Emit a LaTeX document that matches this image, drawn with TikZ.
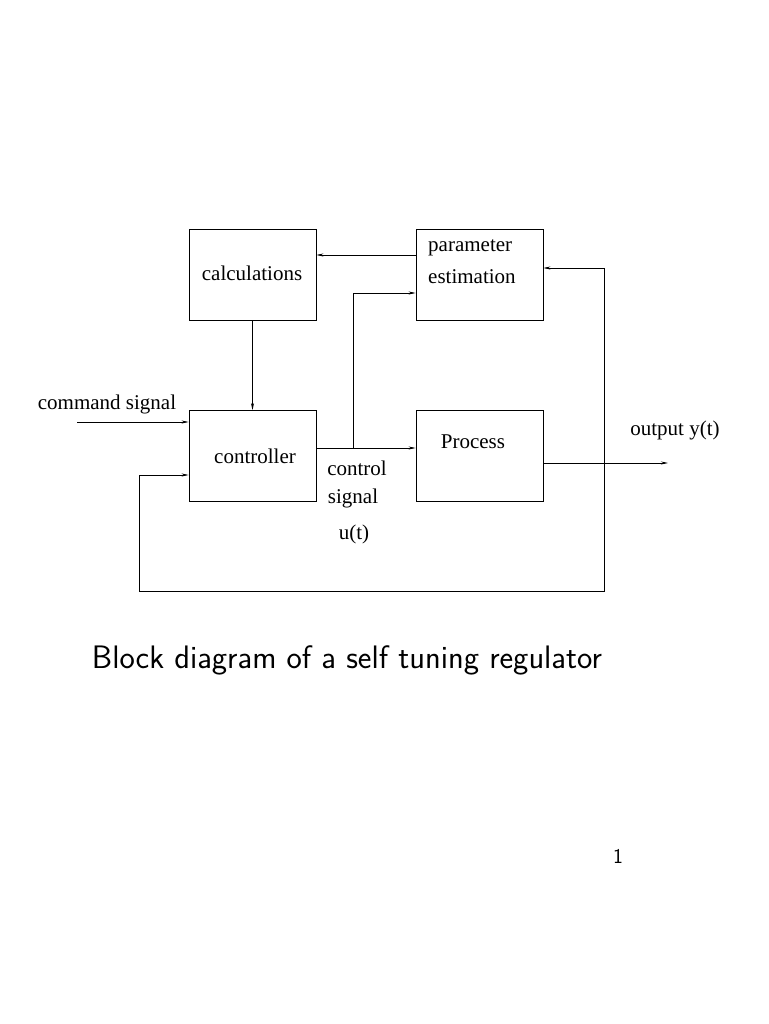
\documentclass[tikz,border=0pt]{standalone}
\usepackage{fontspec}
\setmainfont{Liberation Serif}
\setsansfont{Latin Modern Sans}
\usetikzlibrary{arrows.meta}
\begin{document}
\begin{tikzpicture}[x=1pt,y=-1pt,
  blk/.style={draw,line width=0.8pt,minimum width=127pt,minimum height=91pt,inner sep=0},
  lbl/.style={font=\fontsize{21}{23}\selectfont,inner sep=0},
  ar/.style={-{Stealth[length=7pt,width=3pt]},line width=0.7pt},
  ln/.style={line width=0.7pt}]
\useasboundingbox (0,0) rectangle (768,1024);
\node[blk] (calc) at (252.5,274.5) {};
\node[blk] (par) at (479.5,274.5) {};
\node[blk] (ctrl) at (252.5,456) {};
\node[blk] (proc) at (479.5,456) {};
\node[lbl] at (252,273) {calculations};
\node[lbl,anchor=west] at (428,248) {parameter};
\node[lbl,anchor=west] at (428,277) {estimation};
\node[lbl] at (255,456) {controller};
\node[lbl] at (473,442) {Process};
\node[lbl] (cmd) at (107,404) {command signal};
\node[lbl] (out) at (675,430) {output y(t)};
\node[lbl] at (357,468) {control};
\node[lbl] at (353,498) {signal};
\node[lbl] at (354,534) {u(t)};
\node[font=\sffamily\fontsize{32.5}{36}\selectfont] at (347,660) {Block diagram of a self tuning regulator};
\node[font=\sffamily\fontsize{21}{23}\selectfont] at (618,856) {1};
\coordinate (cin) at (77,422);
\coordinate (j) at (353,448);
\coordinate (yo) at (668,463);
\coordinate (fb) at (604,463);
\draw[ar] (par.west |- 0,255) -- (calc.east |- 0,255);
\draw[ar] (calc.south) -- (ctrl.north);
\draw[ar] (cin) -- (cin -| ctrl.west);
\draw[ar] (j -| ctrl.east) -- (j -| proc.west);
\draw[ar] (j) |- (par.west |- 0,293);
\draw[ar] (proc.east |- yo) -- (yo);
\draw[ar] (fb) |- (par.east |- 0,268);
\draw[ar] (fb) -- (604,591) -- (139,591) -- (139,475) -- (ctrl.west |- 0,475);
\end{tikzpicture}
\end{document}
